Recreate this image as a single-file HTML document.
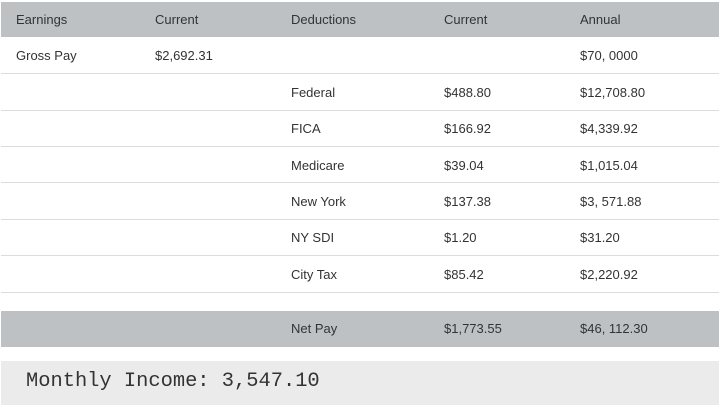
<!DOCTYPE html>
<html><head><meta charset="utf-8"><style>
body{margin:0;width:720px;height:407px;background:#fff;position:relative;font-family:"Liberation Sans","DejaVu Sans",sans-serif;font-size:13px;color:#333;overflow:hidden}
.r{position:absolute;left:1px;width:718px;border-bottom:1px solid #dcdcdc}
.g{background:#bdc1c4;border-bottom:none}
.c{position:absolute;top:0;line-height:inherit}
.mono{position:absolute;left:1px;top:361px;width:718px;height:44px;background:#ebebeb;font-family:"Liberation Mono",monospace;font-size:20.4px;color:#333}
</style></head><body>
<div class="r g" style="top:2px;height:35px;line-height:35px"><span class="c" style="left:15px">Earnings</span><span class="c" style="left:154px">Current</span><span class="c" style="left:290px">Deductions</span><span class="c" style="left:443px">Current</span><span class="c" style="left:579px">Annual</span></div>
<div class="r" style="top:37px;height:36px;line-height:38px"><span class="c" style="left:15px">Gross Pay</span><span class="c" style="left:154px">$2,692.31</span><span class="c" style="left:579px">$70, 0000</span></div>
<div class="r" style="top:74px;height:36px;line-height:38px"><span class="c" style="left:290px">Federal</span><span class="c" style="left:443px">$488.80</span><span class="c" style="left:579px">$12,708.80</span></div>
<div class="r" style="top:110px;height:36px;line-height:38px"><span class="c" style="left:290px">FICA</span><span class="c" style="left:443px">$166.92</span><span class="c" style="left:579px">$4,339.92</span></div>
<div class="r" style="top:147px;height:35px;line-height:37px"><span class="c" style="left:290px">Medicare</span><span class="c" style="left:443px">$39.04</span><span class="c" style="left:579px">$1,015.04</span></div>
<div class="r" style="top:183px;height:36px;line-height:38px"><span class="c" style="left:290px">New York</span><span class="c" style="left:443px">$137.38</span><span class="c" style="left:579px">$3, 571.88</span></div>
<div class="r" style="top:219px;height:36px;line-height:38px"><span class="c" style="left:290px">NY SDI</span><span class="c" style="left:443px">$1.20</span><span class="c" style="left:579px">$31.20</span></div>
<div class="r" style="top:256px;height:36px;line-height:38px"><span class="c" style="left:290px">City Tax</span><span class="c" style="left:443px">$85.42</span><span class="c" style="left:579px">$2,220.92</span></div>
<div class="r" style="top:292px;height:19px;border:none"></div>
<div class="r g" style="top:311px;height:36px;line-height:36px"><span class="c" style="left:290px">Net Pay</span><span class="c" style="left:443px">$1,773.55</span><span class="c" style="left:579px">$46, 112.30</span></div>
<div class="mono"><span style="position:absolute;left:25px;top:9px">Monthly Income: 3,547.10</span></div>
</body></html>
